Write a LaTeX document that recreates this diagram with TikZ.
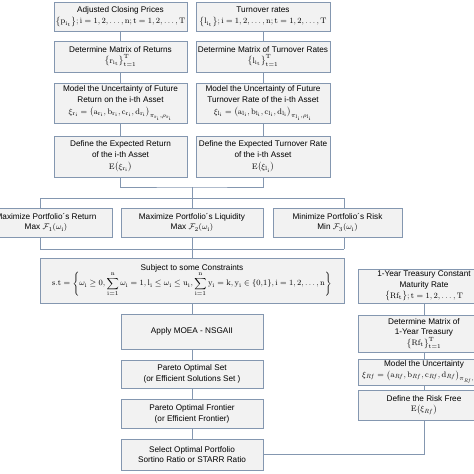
\documentclass[tikz,border=0pt]{standalone}
\usepackage[no-math]{fontspec}
\setmainfont{Liberation Sans}
\usepackage{amsmath}
\definecolor{bd}{RGB}{132,151,176}
\definecolor{bx}{RGB}{242,242,242}
\begin{document}
\begin{tikzpicture}[x=1pt,y=-1pt,
  box/.style={draw=bd, fill=bx, line width=0.8pt, align=center, inner sep=1pt,
    font=\fontsize{8.2}{10.8}\selectfont},
  link/.style={draw=bd, line width=0.8pt}]
\useasboundingbox (0,0) rectangle (474,474);
% left column
\node[box, minimum width=133pt, minimum height=29pt] (acp) at (120.5,16.5)
  {Adjusted Closing Prices\\[1pt] $\bigl\{\mathrm{p_{i_t}}\bigr\}; \mathrm{i = 1, 2, \ldots, n; t = 1, 2, \ldots, T}$};
\node[box, minimum width=134pt, minimum height=29pt] (tr) at (263,16.5)
  {Turnover rates\\[1pt] $\bigl\{\mathrm{l_{i_t}}\bigr\}; \mathrm{i = 1, 2, \ldots, n; t = 1, 2, \ldots, T}$};
\node[box, minimum width=133pt, minimum height=31pt] (dmr) at (120.5,56.5)
  {Determine Matrix of Returns\\ $\bigl\{\mathrm{r_{i_t}}\bigr\}_{\mathrm{t=1}}^{\mathrm{T}}$};
\node[box, minimum width=134pt, minimum height=31pt] (dmt) at (263,56.5)
  {Determine Matrix of Turnover Rates\\ $\bigl\{\mathrm{l_{i_t}}\bigr\}_{\mathrm{t=1}}^{\mathrm{T}}$};
\node[box, minimum width=133pt, minimum height=40pt] (mur) at (120.5,103)
  {Model the Uncertainty of Future\\ Return on the i-th Asset\\[1pt]
   $\xi_{\mathrm{r_i}} = \bigl(\mathrm{a_{r_i}, b_{r_i}, c_{r_i}, d_{r_i}}\bigr)_{\pi_{\mathrm{r_i}},\rho_{\mathrm{r_i}}}$};
\node[box, minimum width=134pt, minimum height=40pt] (mut) at (263,103)
  {Model the Uncertainty of Future\\ Turnover Rate of the i-th Asset\\[1pt]
   $\xi_{\mathrm{l_i}} = \bigl(\mathrm{a_{l_i}, b_{l_i}, c_{l_i}, d_{l_i}}\bigr)_{\pi_{\mathrm{l_i}},\rho_{\mathrm{l_i}}}$};
\node[box, minimum width=133pt, minimum height=41pt] (der) at (120.5,156.5)
  {Define the Expected Return\\ of the i-th Asset\\[1pt] $\mathrm{E}\bigl(\xi_{\mathrm{r_i}}\bigr)$};
\node[box, minimum width=134pt, minimum height=41pt] (det) at (263,156.5)
  {Define the Expected Turnover Rate\\ of the i-th Asset\\[1pt] $\mathrm{E}\bigl(\xi_{\mathrm{l_i}}\bigr)$};
% objectives
\node[box, minimum width=132pt, minimum height=29pt] (o1) at (46,222.5)
  {Maximize Portfolio´s Return\\ Max $\mathcal{F}_1(\omega_{\mathrm{i}})$};
\node[box, minimum width=142pt, minimum height=29pt] (o2) at (192,222.5)
  {Maximize Portfolio´s Liquidity\\ Max $\mathcal{F}_2(\omega_{\mathrm{i}})$};
\node[box, minimum width=129pt, minimum height=29pt] (o3) at (337.5,222.5)
  {Minimize Portfolio´s Risk\\ Min $\mathcal{F}_3(\omega_{\mathrm{i}})$};
% constraints
\node[box, minimum width=304pt, minimum height=45pt] (con) at (192,280.5)
  {Subject to some Constraints\\[-1pt]
   $\mathrm{s.t} = \left\{\omega_{\mathrm{i}} \ge 0, \displaystyle\sum_{\mathrm{i=1}}^{\mathrm{n}} \omega_{\mathrm{i}} = 1, \mathrm{l_i} \le \omega_{\mathrm{i}} \le \mathrm{u_i}, \sum_{\mathrm{i=1}}^{\mathrm{n}} \mathrm{y_i} = \mathrm{k}, \mathrm{y_i} \in \{0{,}1\}, \mathrm{i = 1, 2, \ldots, n}\right\}$};
\node[box, minimum width=142pt, minimum height=35pt] (moea) at (192,331.5) {Apply MOEA - NSGAII};
\node[box, minimum width=142pt, minimum height=28pt] (pos) at (192,374)
  {Pareto Optimal Set\\ (or Efficient Solutions Set )};
\node[box, minimum width=142pt, minimum height=29pt] (pof) at (192,413.5)
  {Pareto Optimal Frontier\\ (or Efficient Frontier)};
\node[box, minimum width=142pt, minimum height=31pt] (sel) at (192,454.5)
  {Select Optimal Portfolio\\ Sortino Ratio or STARR Ratio};
% treasury column
\node[box, minimum width=132pt, minimum height=34pt] (ty) at (424,286)
  {1-Year Treasury Constant\\ Maturity Rate\\ $\bigl\{\mathrm{Rf_t}\bigr\}; \mathrm{t = 1, 2, \ldots, T}$};
\node[box, minimum width=132pt, minimum height=37pt] (dmy) at (424,333.5)
  {Determine Matrix of\\ 1-Year Treasury\\ $\bigl\{\mathrm{Rf_t}\bigr\}_{\mathrm{t=1}}^{\mathrm{T}}$};
\node[box, minimum width=132pt, minimum height=26pt] (muy) at (424,372)
  {Model the Uncertainty\\
   $\xi_{\mathit{Rf}} = \bigl(\mathrm{a}_{\mathit{Rf}}, \mathrm{b}_{\mathit{Rf}}, \mathrm{c}_{\mathit{Rf}}, \mathrm{d}_{\mathit{Rf}}\bigr)_{\pi_{\mathit{Rf}},\rho_{\mathit{Rf}}}$};
\node[box, minimum width=132pt, minimum height=30pt] (dry) at (424,405)
  {Define the Risk Free\\ $\mathrm{E}\bigl(\xi_{\mathit{Rf}}\bigr)$};
% connectors
\draw[link] (acp) -- (dmr);
\draw[link] (dmr) -- (mur);
\draw[link] (mur) -- (der);
\draw[link] (tr) -- (dmt);
\draw[link] (dmt) -- (mut);
\draw[link] (mut) -- (det);
\coordinate (m1) at (192,187);
\coordinate (m2) at (192,198);
\coordinate (b1) at (40,198);
\coordinate (b3) at (344,198);
\draw[link] (der.south) |- (m1) -| (det.south);
\draw[link] (m1) -- (m2);
\draw[link] (b1) -- (b3);
\draw[link] (b1) -- (b1 |- o1.north);
\draw[link] (b3) -- (b3 |- o3.north);
\draw[link] (m2) -- (o2.north);
\coordinate (c1) at (40,249);
\coordinate (c2) at (192,249);
\coordinate (c3) at (344,249);
\draw[link] (c1) -- (c3);
\draw[link] (c1 |- o1.south) -- (c1);
\draw[link] (o2.south) -- (c2);
\draw[link] (c3 |- o3.south) -- (c3);
\draw[link] (c2) -- (con.north);
\draw[link] (con) -- (moea);
\draw[link] (moea) -- (pos);
\draw[link] (pos) -- (pof);
\draw[link] (pof) -- (sel);
\draw[link] (ty) -- (dmy);
\draw[link] (dmy) -- (muy);
\draw[link] (muy) -- (dry);
\draw[link] (dry.south) |- (sel.east);
\end{tikzpicture}
\end{document}
